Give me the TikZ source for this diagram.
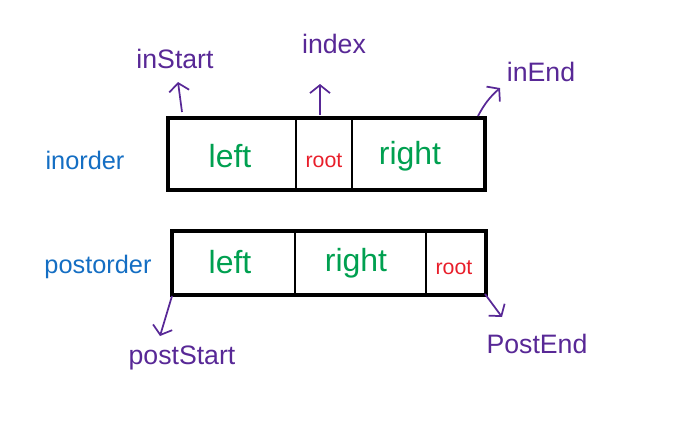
\documentclass[tikz,border=0pt]{standalone}
\usepackage{fontspec}
\setmainfont{Liberation Sans}
\usetikzlibrary{arrows.meta}
\definecolor{ptr}{RGB}{88,40,150}
\definecolor{arr}{RGB}{20,110,195}
\definecolor{sub}{RGB}{0,160,80}
\definecolor{rt}{RGB}{232,30,42}
\tikzset{
  cell/.style={draw=black,line width=1.3pt,minimum height=#1,inner sep=0pt,anchor=north west},
  outer/.style={draw=black,line width=3pt},
  ptrlabel/.style={text=ptr,font=\fontsize{20}{20}\selectfont},
  arrlabel/.style={text=arr,font=\fontsize{19}{19}\selectfont},
  sublabel/.style={text=sub,font=\fontsize{24}{24}\selectfont},
  rootlabel/.style={text=rt,font=\fontsize{16}{16}\selectfont},
  ptrarrow/.style={draw=ptr,line width=1.3pt,-{Straight Barb[length=6pt,width=15pt]}},
}
\begin{document}
\begin{tikzpicture}[x=0.75pt,y=-0.75pt]
\useasboundingbox (0,0) rectangle (682,440);
% inorder array
\node[cell=52.5pt,minimum width=95.25pt] (inL) at (168,118) {};
\node[cell=52.5pt,minimum width=42pt] (inR) at (295,118) {};
\node[cell=52.5pt,minimum width=99pt] (inRt) at (351,118) {};
\draw[outer] (inL.north west) rectangle (inRt.south east);
\node[sublabel] (t1) at (230,156) {left};
\node[rootlabel] (t2) at (324,161) {root};
\node[sublabel] (t3) at (410,156) {right};
\node[arrlabel] (inorder) at (85,160) {inorder};
% postorder array
\node[cell=46.5pt,minimum width=91.5pt] (pL) at (172,231) {};
\node[cell=46.5pt,minimum width=98.25pt] (pR) at (294,231) {};
\node[cell=46.5pt,minimum width=44.25pt] (pRt) at (425,231) {};
\draw[outer] (pL.north west) rectangle (pRt.south east);
\node[sublabel] (b1) at (230,262) {left};
\node[sublabel] (b2) at (356,263) {right};
\node[rootlabel] (b3) at (454,268) {root};
\node[arrlabel] (postorder) at (98,267) {postorder};
% pointer labels
\node[ptrlabel] (inStart) at (175,59) {inStart};
\node[ptrlabel] (index) at (334,44) {index};
\node[ptrlabel] (inEnd) at (541,72) {inEnd};
\node[ptrlabel] (postStart) at (182,358) {postStart};
\node[ptrlabel] (postEnd) at (537,344) {PostEnd};
\coordinate (a1) at (182,112);
\coordinate (a1e) at (178,82);
\coordinate (a2) at (320,115);
\coordinate (a2e) at (320,84);
\coordinate (a3) at (478,116);
\coordinate (a3e) at (500,88);
\coordinate (a4) at (172,296);
\coordinate (a4e) at (160,336);
\coordinate (a5) at (485,294);
\coordinate (a5e) at (502,317);
\draw[ptrarrow] (a1) -- (a1e);
\draw[ptrarrow] (a2) -- (a2e);
\draw[ptrarrow] (a3) to[bend left=10] (a3e);
\draw[ptrarrow] (a4) -- (a4e);
\draw[ptrarrow] (a5) -- (a5e);
\end{tikzpicture}
\end{document}
